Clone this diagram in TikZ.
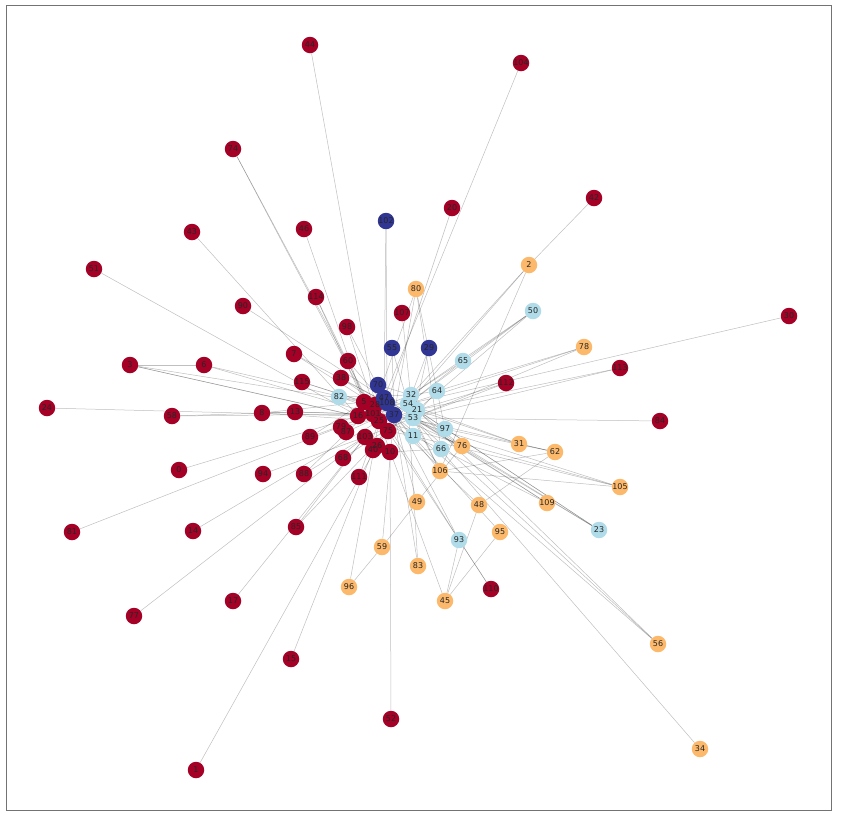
\documentclass[tikz,border=0pt]{standalone}
\usepackage{fontspec}
\newfontfamily\labelfont{DejaVu Sans}
\usetikzlibrary{backgrounds}

\definecolor{comred}{HTML}{A50026}
\definecolor{comorange}{HTML}{FDB96B}
\definecolor{comlight}{HTML}{B0DCEA}
\definecolor{comdark}{HTML}{313695}

\begin{document}
\begin{tikzpicture}[x=1pt,y=-1pt]
	\tikzstyle{vertex} = [circle, minimum size=16.5pt, inner sep=0pt, draw=none]
	\tikzstyle{redv} = [vertex, fill=comred]
	\tikzstyle{orangev} = [vertex, fill=comorange]
	\tikzstyle{lightv} = [vertex, fill=comlight]
	\tikzstyle{darkv} = [vertex, fill=comdark]
	\tikzstyle{lbl} = [font=\labelfont\fontsize{8}{8}\selectfont, text=black!85, inner sep=0pt]
	\tikzstyle{link} = [draw=black, draw opacity=0.25, line width=0.5pt]
	\useasboundingbox (0,0) rectangle (860,820);
	\draw[black!55, line width=1pt] (6,5) rectangle (831,810);
	% community 0
	\foreach \n/\x/\y in {44/310/45, 104/521/63, 74/233/149, 42/594/198, 20/452/208,
		43/192/232, 46/304/229, 51/94/269, 114/316/297, 90/243/306, 30/789/316,
		98/347/327, 107/402/313, 7/294/354, 60/348/361, 3/130/365, 6/204/365,
		113/620/368, 115/302/382, 38/341/378, 112/506/383, 24/47/408, 8/262/413,
		58/172/416, 13/295/412, 84/660/421, 5/364/402, 28/375/405, 16/358/416,
		25/379/421, 101/373/414, 79/341/427, 87/346/432, 75/388/431, 103/365/437,
		89/310/437, 26/377/446, 40/373/450, 10/390/452, 68/343/458, 0/179/470,
		94/263/474, 88/304/474, 111/359/477, 81/72/532, 14/193/531, 85/296/527,
		110/491/589, 17/233/601, 77/134/616, 15/291/659, 52/391/719, 1/196/770}
		\node (n\n)[redv] at (\x,\y) {};
	% community 1
	\foreach \n/\x/\y in {102/386/221, 55/392/348, 29/429/348, 70/378/385,
		47/384/398, 108/387/403, 37/394/415}
		\node (n\n)[darkv] at (\x,\y) {};
	% community 2
	\foreach \n/\x/\y in {50/533/311, 65/463/361, 64/437/391, 82/339/397,
		32/411/395, 54/408/404, 21/417/410, 53/413/418, 11/413/436, 97/445/429,
		66/441/449, 93/459/540, 23/599/530}
		\node (n\n)[lightv] at (\x,\y) {};
	% community 3
	\foreach \n/\x/\y in {2/529/265, 80/416/289, 78/584/347, 76/462/446,
		31/519/444, 62/555/452, 106/440/471, 105/620/487, 49/417/502, 48/479/505,
		109/547/503, 95/500/532, 59/382/547, 83/418/566, 96/349/587, 45/445/601,
		56/658/644, 34/700/749}
		\node (n\n)[orangev] at (\x,\y) {};
	% labels
	\foreach \n in {44,104,74,42,20,43,46,51,114,90,30,98,107,7,60,3,6,113,115,38,
		112,24,8,58,13,84,5,28,16,25,101,79,87,75,103,89,26,40,10,68,0,94,88,111,
		81,14,85,110,17,77,15,52,1,102,55,29,70,47,108,37,50,65,64,82,32,54,21,53,
		11,97,66,93,23,2,80,78,76,31,62,106,105,49,48,109,95,59,83,96,45,56,34}
		\node[lbl] at (n\n) {\n};
	% edges
	\begin{scope}[on background layer]
		\foreach \a/\b in {44/28, 104/47, 74/101, 74/25, 42/2, 20/108, 43/16, 46/5,
			51/16, 114/5, 114/101, 90/47, 7/28, 7/108, 98/25, 98/47, 107/53, 60/37,
			3/6, 3/5, 3/16, 3/25, 6/5, 6/101, 24/16, 58/13, 58/101, 8/13, 8/5, 8/25,
			13/101, 13/37, 115/5, 115/28, 38/108, 38/37, 113/53, 113/21, 30/54,
			112/21, 112/53, 84/53, 0/16, 94/103, 88/103, 88/28, 81/101, 14/25,
			85/75, 85/103, 111/25, 17/103, 77/103, 15/40, 1/26, 52/10, 110/93,
			110/75, 89/5, 89/101, 5/37, 28/54, 101/53, 16/32, 25/21, 75/11, 10/66,
			79/37, 87/54, 68/21, 103/53, 26/54, 40/37,
			102/47, 102/108, 55/37, 55/54, 29/54, 29/53, 70/32, 47/21,
			50/65, 50/54, 50/32, 50/21, 65/32, 65/54, 64/32, 64/53,
			2/32, 2/54, 2/106, 80/28, 80/37, 80/97, 80/66, 78/64, 78/54, 78/53,
			76/49, 76/37, 76/54, 31/54, 31/62, 31/21, 62/37, 62/106, 106/54,
			106/53, 106/105, 106/37, 105/25, 105/37, 49/59, 49/37, 48/45, 48/62,
			48/28, 109/47, 109/53, 95/45, 95/37, 59/96, 59/37, 83/54, 83/37,
			96/25, 45/93, 45/25, 56/53, 56/21, 56/37, 34/53, 23/53, 23/21, 23/54,
			23/47, 93/37, 93/28, 97/5, 97/62, 66/25, 66/109, 11/105, 82/37, 82/32}
			\draw[link] (n\a) -- (n\b);
	\end{scope}
\end{tikzpicture}
\end{document}
